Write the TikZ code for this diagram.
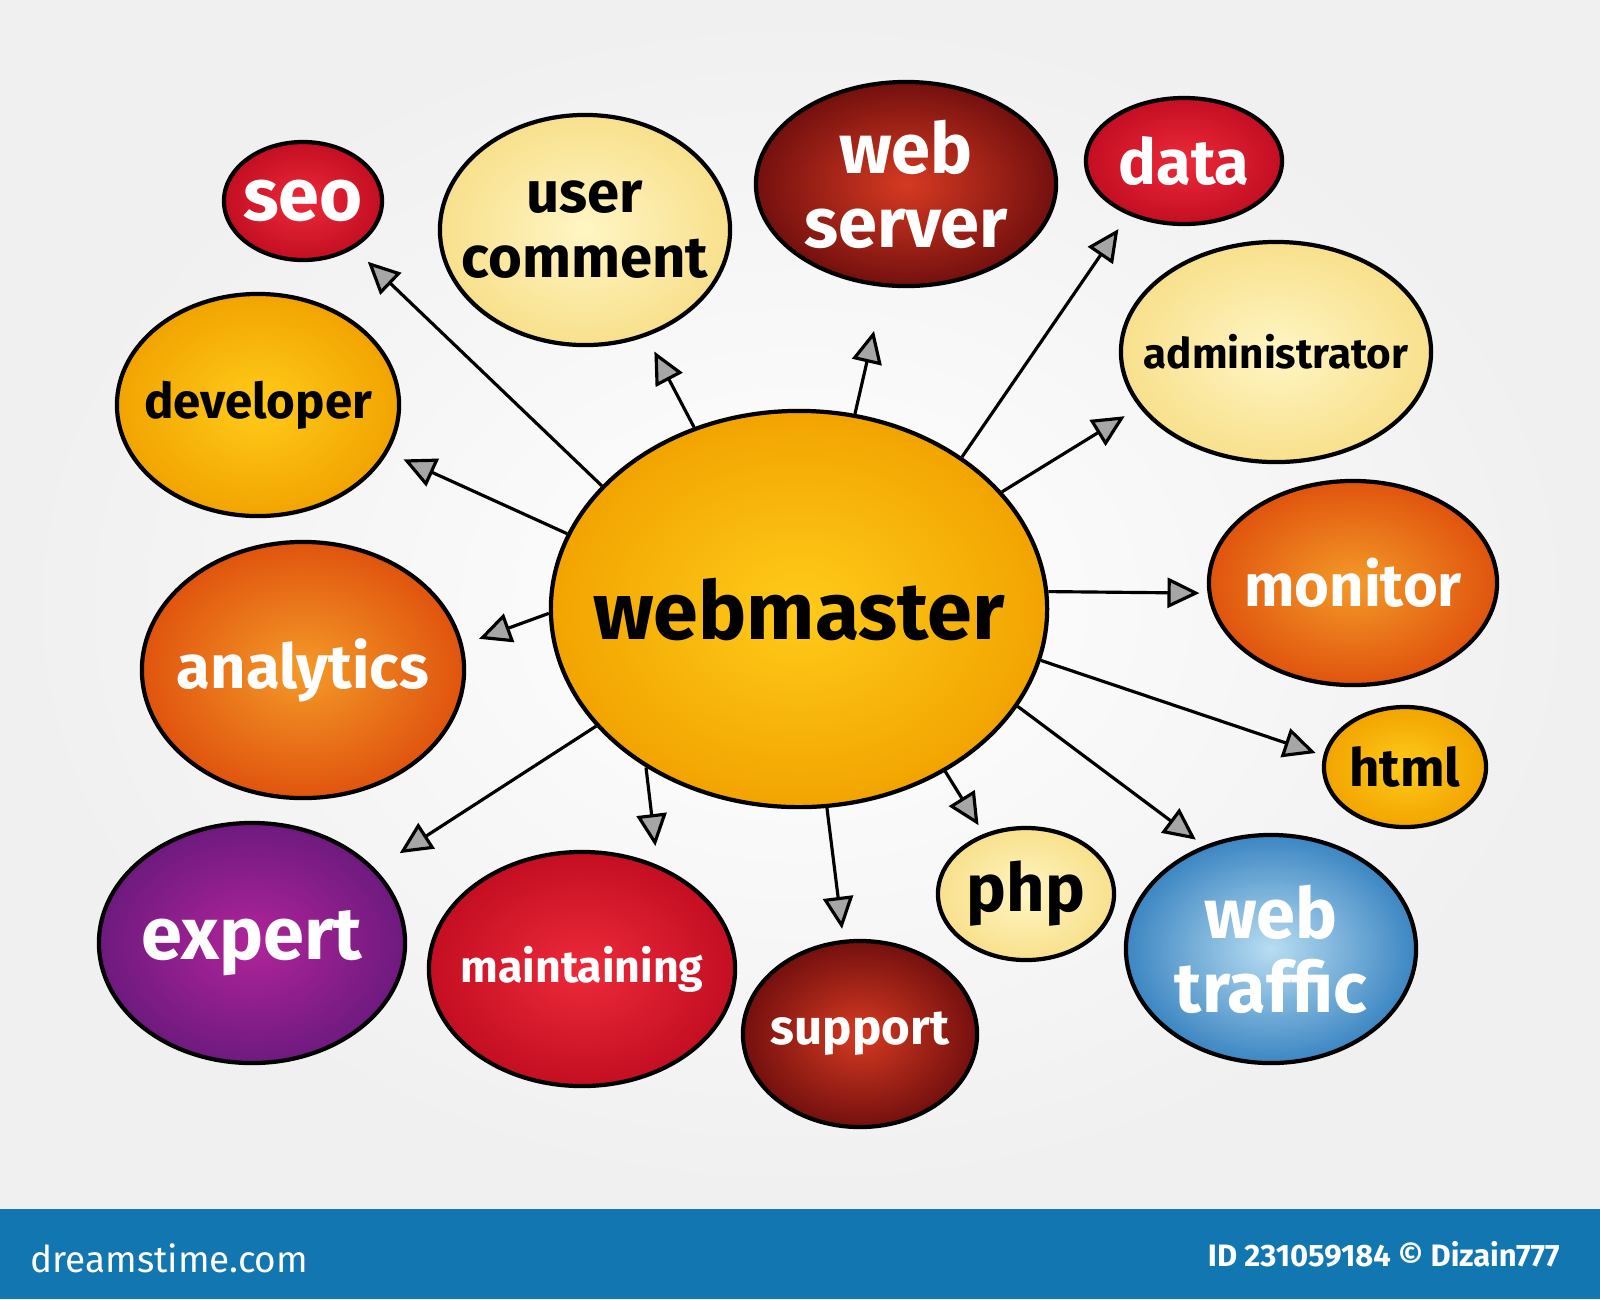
\documentclass[tikz,border=0pt]{standalone}
\usepackage{fontspec}
\setmainfont{Fira Sans}
\usetikzlibrary{arrows.meta,shapes.geometric}

\definecolor{barblue}{HTML}{1276B0}
\definecolor{redin}{HTML}{EC2A3A}
\definecolor{redout}{HTML}{C40E22}
\definecolor{palein}{HTML}{FFF6C4}
\definecolor{paleout}{HTML}{F8E08C}
\definecolor{maroonin}{HTML}{D63A22}
\definecolor{maroonout}{HTML}{74100E}
\definecolor{yellin}{HTML}{FFCB1A}
\definecolor{yellout}{HTML}{F2A400}
\definecolor{orgin}{HTML}{F49A28}
\definecolor{orgout}{HTML}{E0540E}
\definecolor{purin}{HTML}{B0249A}
\definecolor{purout}{HTML}{6E1A7E}
\definecolor{bluein}{HTML}{B8DDF2}
\definecolor{blueout}{HTML}{3C86C2}

\newcommand\fsz[2]{\fontsize{#1}{#2}\selectfont\bfseries}

\tikzset{
bubble/.style={ellipse, draw=black, line width=1.2pt, inner sep=-0.6cm, align=center},
link/.style={line width=0.9pt, -{Triangle[length=0.32cm,width=0.3cm,fill=gray!70,line width=0.9pt]}},
}

\begin{document}
\begin{tikzpicture}[x=0.01cm,y=-0.01cm]
\useasboundingbox (0,0) rectangle (1600,1299);
\shade[inner color=white, outer color=gray!12] (0,0) rectangle (1600,1209);
\fill[barblue] (0,1209) rectangle (1600,1299);

\node[bubble, minimum width=4.96cm, minimum height=3.96cm, inner color=yellin, outer color=yellout, font=\fsz{23}{26}] (wm) at (799,609) {webmaster};

\begin{scope}[every node/.style={bubble}]
\node[minimum width=1.58cm, minimum height=1.18cm, inner color=redin, outer color=redout, text=white, font=\fsz{21}{24}] (seo) at (303,201) {seo};
\node[minimum width=2.90cm, minimum height=2.30cm, inner color=palein, outer color=paleout, font=\fsz{16.5}{18.5}] (ucom) at (585,230) {user\\comment};
\node[minimum width=3.00cm, minimum height=2.04cm, inner color=maroonin, outer color=maroonout, text=white, font=\fsz{20}{21}] (wsrv) at (906,184) {web\\server};
\node[minimum width=1.96cm, minimum height=1.26cm, inner color=redin, outer color=redout, text=white, font=\fsz{18}{20}] (data) at (1184,161) {data};
\node[minimum width=3.10cm, minimum height=2.20cm, inner color=palein, outer color=paleout, font=\fsz{12}{14}] (admin) at (1276,352) {administrator};
\node[minimum width=2.82cm, minimum height=2.22cm, inner color=yellin, outer color=yellout, font=\fsz{14}{16}] (dev) at (258,405) {developer};
\node[minimum width=3.22cm, minimum height=2.56cm, inner color=orgin, outer color=orgout, text=white, font=\fsz{17.5}{20}] (ana) at (303,670) {analytics};
\node[minimum width=2.88cm, minimum height=2.04cm, inner color=orgin, outer color=orgout, text=white, font=\fsz{17}{20}] (mon) at (1353,583) {monitor};
\node[minimum width=1.62cm, minimum height=1.20cm, inner color=yellin, outer color=yellout, font=\fsz{15}{18}] (html) at (1405,767) {html};
\node[minimum width=3.06cm, minimum height=2.40cm, inner color=purin, outer color=purout, text=white, font=\fsz{21}{24}] (exp) at (252,943) {expert};
\node[minimum width=3.06cm, minimum height=2.34cm, inner color=redin, outer color=redout, text=white, font=\fsz{12.7}{15}] (maint) at (582,969) {maintaining};
\node[minimum width=2.34cm, minimum height=1.86cm, inner color=maroonin, outer color=maroonout, text=white, font=\fsz{14}{16}] (sup) at (860,1034) {support};
\node[minimum width=1.76cm, minimum height=1.32cm, inner color=palein, outer color=paleout, font=\fsz{19}{22}] (php) at (1026,894) {php};
\node[minimum width=2.90cm, minimum height=2.28cm, inner color=bluein, outer color=blueout, text=white, font=\fsz{20}{21}] (traf) at (1271,949) {web\\traffic};
\end{scope}

\draw[link, shorten >=0.19cm] (wm.148) -- (seo.317);
\draw[link, shorten >=0.17cm] (wm.120) -- (ucom.300);
\draw[link, shorten >=0.45cm] (wm.74) -- (wsrv.258);
\draw[link, shorten >=0.17cm] (wm.43) -- (data.224);
\draw[link, shorten >=0.17cm] (wm.30) -- (admin.202);
\draw[link, shorten >=0.17cm] (wm.162) -- (dev.340);
\draw[link, shorten >=0.17cm] (wm.181) -- (ana.9);
\draw[link, shorten >=0.08cm] (wm.4) -- (mon.184);
\draw[link, shorten >=0.08cm] (wm.348) -- (html.172);
\draw[link, shorten >=0.10cm] (wm.336) -- (traf.123);
\draw[link, shorten >=0.10cm] (wm.312) -- (php.125);
\draw[link, shorten >=0.11cm] (wm.278) -- (sup.100);
\draw[link, shorten >=0.19cm] (wm.226) -- (maint.54);
\draw[link, shorten >=0.29cm] (wm.210) -- (exp.31);

\node[anchor=west, text=white, font=\fontsize{10.5}{12}\selectfont] (site) at (18,1258) {dreamstime.com};
\node[anchor=east, text=white, font=\fontsize{8.8}{10}\selectfont\bfseries] (id) at (1572,1254) {ID 231059184 © Dizain777};
\end{tikzpicture}
\end{document}
